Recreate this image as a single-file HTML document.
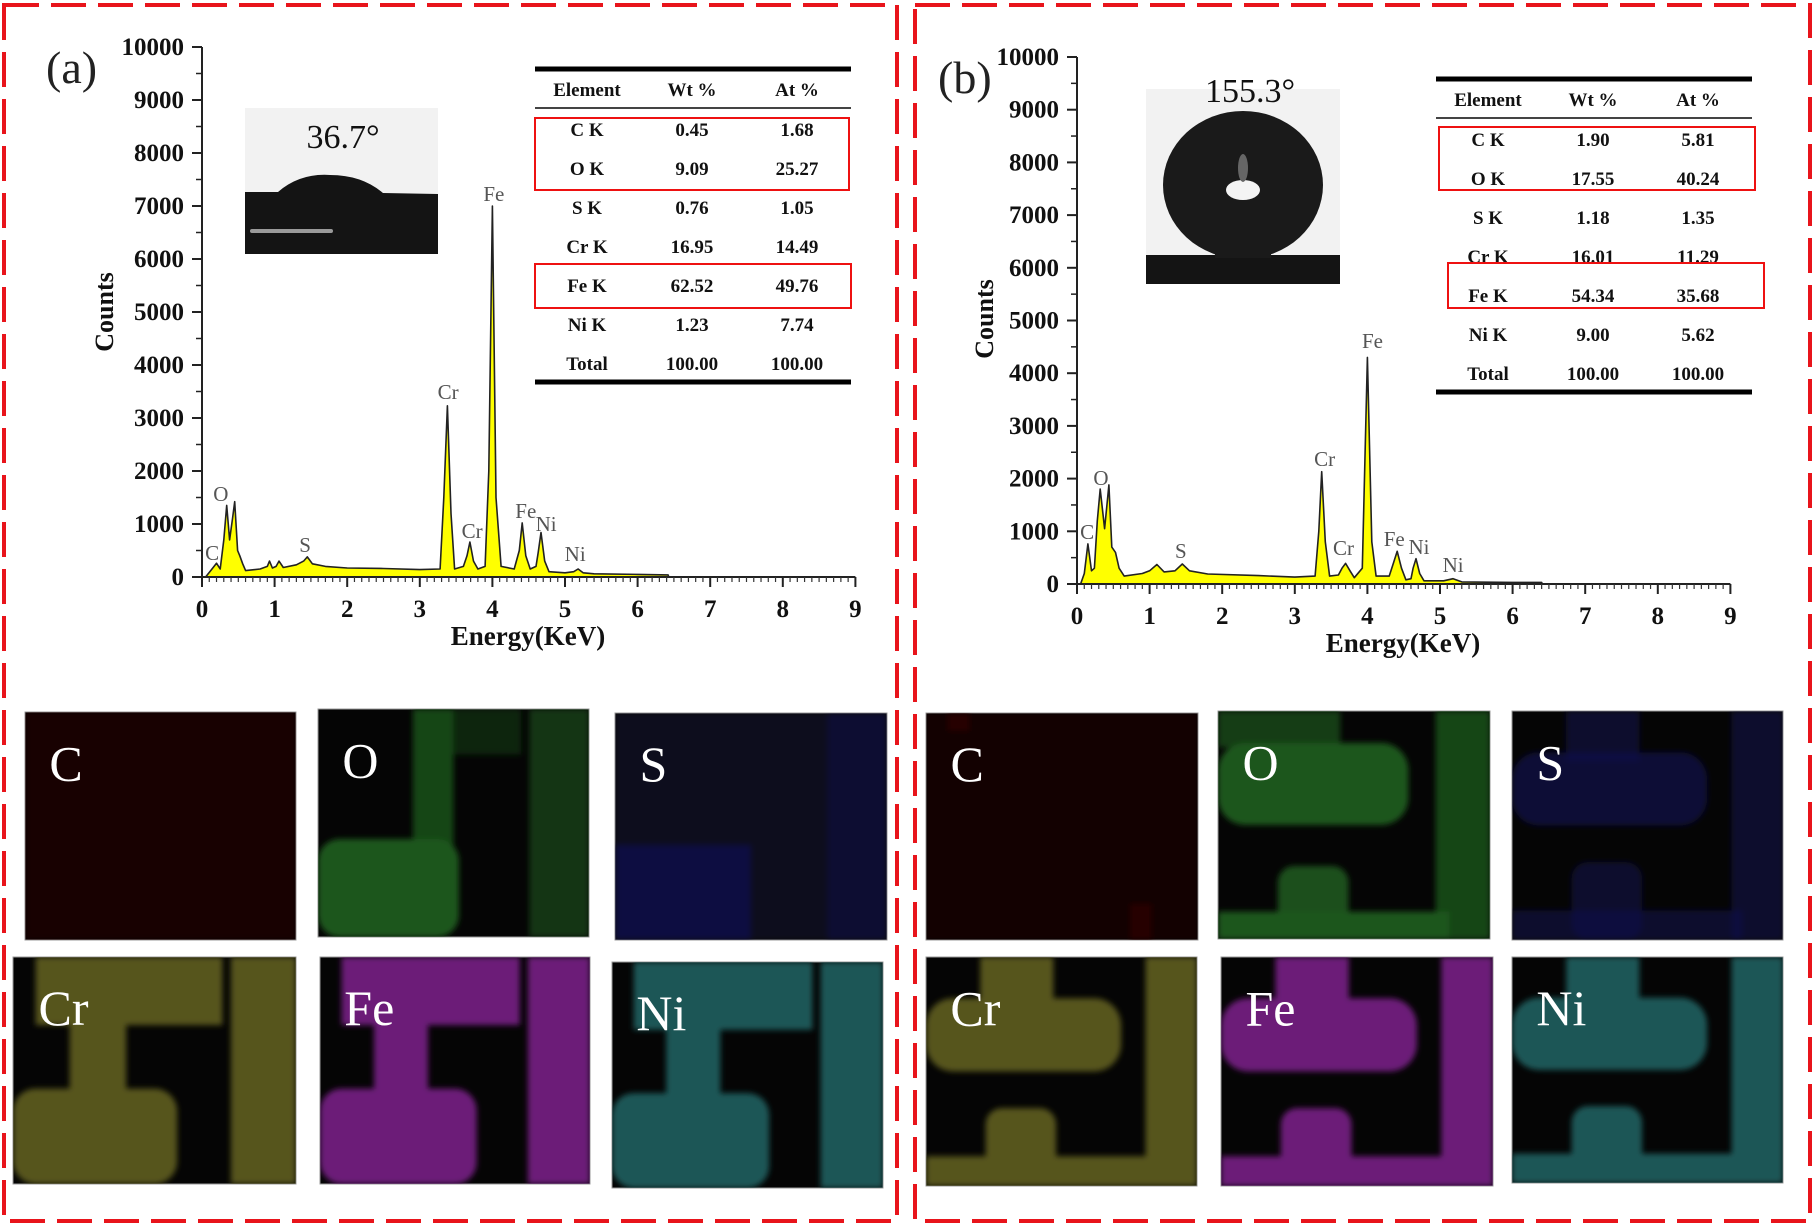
<!DOCTYPE html>
<html><head><meta charset="utf-8"><style>
html,body{margin:0;padding:0;background:#fff;}
svg{display:block;}
text{font-family:"Liberation Serif",serif;}
</style></head><body>
<svg id="fig" width="1816" height="1226" viewBox="0 0 1816 1226" xmlns="http://www.w3.org/2000/svg">
<rect x="0" y="0" width="1816" height="1226" fill="#fff"/>
<rect x="4" y="5" width="893" height="1216" fill="none" stroke="#e8141b" stroke-width="4" stroke-dasharray="35,12"/>
<rect x="915" y="5" width="895" height="1216" fill="none" stroke="#e8141b" stroke-width="4" stroke-dasharray="35,12"/>
<g id="layer"></g>
</svg>
<script>
// ---- chart data ----
const aEnergy = [0.05,0.12,0.2,0.25,0.3,0.34,0.38,0.42,0.45,0.49,0.52,0.56,0.6,0.8,0.9,0.93,0.97,1.02,1.06,1.12,1.3,1.4,1.45,1.52,1.7,2.0,2.5,3.0,3.28,3.33,3.38,3.43,3.48,3.6,3.65,3.69,3.74,3.8,3.9,3.95,4.0,4.05,4.12,4.3,4.37,4.41,4.46,4.52,4.6,4.63,4.67,4.72,4.78,5.0,5.12,5.18,5.25,5.4,6.0,6.42,6.43];
const aCounts = [0,120,260,150,700,1350,700,1100,1420,500,400,250,120,150,200,300,170,200,300,180,230,300,380,250,200,170,160,140,150,1500,3230,1200,150,200,400,660,300,150,200,2000,7000,1500,200,150,500,1020,400,150,200,450,840,300,100,80,100,150,80,60,50,40,0];
const bEnergy = [0.05,0.1,0.15,0.2,0.24,0.28,0.32,0.38,0.44,0.48,0.53,0.58,0.65,0.9,1.0,1.1,1.2,1.35,1.45,1.55,1.8,2.5,3.0,3.28,3.33,3.37,3.42,3.48,3.6,3.65,3.7,3.76,3.82,3.93,4.0,4.06,4.12,4.3,4.36,4.41,4.47,4.53,4.6,4.63,4.67,4.72,4.78,5.05,5.18,5.3,6.0,6.4,6.41];
const bCounts = [0,200,760,250,300,1200,1800,1050,1880,700,600,300,150,200,250,370,230,250,380,250,190,160,130,150,1000,2130,800,150,170,300,390,250,120,300,4300,800,150,150,400,620,300,80,100,300,480,200,60,60,100,40,30,30,0];
const yTicks = [0,1000,2000,3000,4000,5000,6000,7000,8000,9000,10000];
const xTicks = [0,1,2,3,4,5,6,7,8,9];
const peakNames = ["C","O","S","Cr","Cr","Fe","Fe","Ni","Ni"];
const aPeakE = [0.14,0.26,1.42,3.39,3.72,4.02,4.46,4.74,5.14];
const aPeakC = [470,1585,623,3510,887,7245,1264,1019,453];
const bPeakE = [0.14,0.33,1.43,3.41,3.67,4.07,4.37,4.71,5.18];
const bPeakC = [1006,2030,645,2391,702,4630,873,721,380];
const tblElements = ["C K","O K","S K","Cr K","Fe K","Ni K","Total"];
const aWt = ["0.45","9.09","0.76","16.95","62.52","1.23","100.00"];
const aAt = ["1.68","25.27","1.05","14.49","49.76","7.74","100.00"];
const bWt = ["1.90","17.55","1.18","16.01","54.34","9.00","100.00"];
const bAt = ["5.81","40.24","1.35","11.29","35.68","5.62","100.00"];

const NS = "http://www.w3.org/2000/svg";
const layer = document.getElementById('layer');
function mk(tag, attrs, parent){
  const e = document.createElementNS(NS, tag);
  for (const k in attrs) e.setAttribute(k, attrs[k]);
  (parent||layer).appendChild(e);
  return e;
}
function txt(str, attrs, parent){ const t = mk('text', attrs, parent); t.textContent = str; return t; }

function drawPanel(cfg){
  const g = mk('g', {});
  
  
  const x0 = cfg.x0, y0 = cfg.y0, kx = cfg.kx, ky = cfg.ky;
  const X = e => x0 + e * kx;
  const Y = c => y0 - c * ky;
  let d = 'M' + X(cfg.E[0]) + ',' + Y(0);
  for (let i = 0; i < cfg.E.length; i++) d += ' L' + X(cfg.E[i]).toFixed(1) + ',' + Y(cfg.C[i]).toFixed(1);
  d += ' L' + X(cfg.E[cfg.E.length-1]) + ',' + Y(0) + ' Z';
  const area = mk('path', {d: d, fill: '#ffff00', stroke: '#222', 'stroke-width': 1.6, 'stroke-linejoin': 'round'}, g);
  
  
  const yAxis = mk('line', {x1: x0, y1: y0 + 1, x2: x0, y2: Y(10000), stroke: '#222', 'stroke-width': 2}, g);
  
  
  const xAxis = mk('line', {x1: x0 - 1, y1: y0, x2: X(9), y2: y0, stroke: '#222', 'stroke-width': 2}, g);
  
  
  yTicks.forEach(v => {
    mk('line', {x1: x0 - 10, y1: Y(v), x2: x0, y2: Y(v), stroke: '#222', 'stroke-width': 2}, g);
    if (v < 10000) mk('line', {x1: x0 - 6, y1: Y(v + 500), x2: x0, y2: Y(v + 500), stroke: '#222', 'stroke-width': 1.5}, g);
    const t = txt(String(v), {x: x0 - 18, y: Y(v) + 8, 'text-anchor': 'end', 'font-size': 25, 'font-weight': 'bold', fill: '#111'}, g);
    
    
  });
  xTicks.forEach(v => {
    mk('line', {x1: X(v), y1: y0, x2: X(v), y2: y0 + 10, stroke: '#222', 'stroke-width': 2}, g);
    if (v < 9) for (let m = 1; m < 10; m++) mk('line', {x1: X(v + m/10), y1: y0, x2: X(v + m/10), y2: y0 + 5, stroke: '#333', 'stroke-width': 1.2}, g);
    const t = txt(String(v), {x: X(v), y: y0 + 40, 'text-anchor': 'middle', 'font-size': 25, 'font-weight': 'bold', fill: '#111'}, g);
    
    
  });
  const xt = txt('Energy(KeV)', {x: x0 + 326, y: y0 + 68, 'text-anchor': 'middle', 'font-size': 27, 'font-weight': 'bold', fill: '#111'}, g);
  
  
  const yt = txt('Counts', {x: 0, y: 0, 'text-anchor': 'middle', 'font-size': 26, 'font-weight': 'bold', fill: '#111', transform: 'translate(' + (cfg.countsX) + ',' + (y0 - 265) + ') rotate(-90)'}, g);
  
  
  for (let i = 0; i < peakNames.length; i++) {
    const p = txt(peakNames[i], {x: X(cfg.PE[i]), y: Y(cfg.PC[i]) + 8, 'text-anchor': 'middle', 'font-size': 21, fill: '#555'}, g);
    
    
  }
}

drawPanel({id: 'panel-a', x0: 202, y0: 577, kx: 72.6, ky: 0.053, E: aEnergy, C: aCounts, PE: aPeakE, PC: aPeakC, countsX: 113});
drawPanel({id: 'panel-b', x0: 1077, y0: 584, kx: 72.6, ky: 0.0527, E: bEnergy, C: bCounts, PE: bPeakE, PC: bPeakC, countsX: 993});

const la = txt('(a)', {x: 46, y: 83, 'font-size': 46, fill: '#222'});


const lb = txt('(b)', {x: 938, y: 93, 'font-size': 46, fill: '#222'});



function drawTable(id, x, y, W, A, boxes){
  const g = mk('g', {});
  
  
  const w = 316;
  mk('rect', {x: x, y: y - 2.5, width: w, height: 5, fill: '#000'}, g);
  const cols = [x + 52, x + 157, x + 262];
  ['Element','Wt %','At %'].forEach((h, i) => {
    const t = txt(h, {x: cols[i], y: y + 27, 'text-anchor': 'middle', 'font-size': 19, 'font-weight': 'bold', fill: '#111'}, g);
    
    
  });
  mk('rect', {x: x, y: y + 38, width: w, height: 2, fill: '#444'}, g);
  for (let r = 0; r < tblElements.length; r++) {
    const yy = y + 67 + r * 39;
    [tblElements[r], W[r], A[r]].forEach((s, i) => {
      const t = txt(s, {x: cols[i], y: yy, 'text-anchor': 'middle', 'font-size': 19, 'font-weight': 'bold', fill: '#111'}, g);
      
      
    });
  }
  mk('rect', {x: x, y: y + 310.5, width: w, height: 5, fill: '#000'}, g);
  boxes.forEach(b => {
    const r = mk('rect', {x: b[0], y: b[1], width: b[2], height: b[3], fill: 'none', stroke: '#ee1111', 'stroke-width': 2}, g);
    
    
  });
}
drawTable('panel-a', 535, 69, aWt, aAt, [[535,118,314,72],[535,264,316,44]]);
drawTable('panel-b', 1436, 79, bWt, bAt, [[1439,127,316,63],[1448,263,316,45]]);

(function(){
  const g = mk('g', {});
  
  
  mk('rect', {x: 245, y: 108, width: 193, height: 146, fill: '#f2f2f2'}, g);
  mk('path', {d: 'M245,192 L278,192 Q300,173 330,175 Q362,175 383,193 L438,194 L438,254 L245,254 Z', fill: '#141414'}, g);
  mk('rect', {x: 250, y: 229, width: 83, height: 4, rx: 2, fill: '#9a9a9a'}, g);
  const t = txt('36.7°', {x: 343, y: 148, 'text-anchor': 'middle', 'font-size': 34, fill: '#111'}, g);
  
  
  const g2 = mk('g', {});
  
  
  mk('rect', {x: 1146, y: 89, width: 194, height: 195, fill: '#f2f2f2'}, g2);
  mk('ellipse', {cx: 1243, cy: 185, rx: 80, ry: 74, fill: '#1a1a1a'}, g2);
  mk('rect', {x: 1146, y: 255, width: 194, height: 29, fill: '#141414'}, g2);
  mk('rect', {x: 1215, y: 240, width: 56, height: 18, fill: '#1a1a1a'}, g2);
  mk('ellipse', {cx: 1243, cy: 190, rx: 17, ry: 10, fill: '#f4f4f4'}, g2);
  mk('ellipse', {cx: 1243, cy: 168, rx: 5, ry: 14, fill: '#666'}, g2);
  const t2 = txt('155.3°', {x: 1250, y: 102, 'text-anchor': 'middle', 'font-size': 34, fill: '#111'}, g2);
  
  
})();

const defs = mk('defs', {});
const flt = mk('filter', {id: 'soft', x: '-5%', y: '-5%', width: '110%', height: '110%'}, defs);
mk('feGaussianBlur', {stdDeviation: 3}, flt);
function tile(id, label, x, y, w, h, color, rects, base){
  const g = mk('g', {});
  
  
  const cp = mk('clipPath', {id: 'cp-' + id}, defs);
  mk('rect', {x: x, y: y, width: w, height: h}, cp);
  mk('rect', {x: x, y: y, width: w, height: h, fill: base || '#050505', stroke: '#999', 'stroke-width': 1}, g);
  const inner = mk('g', {'clip-path': 'url(#cp-' + id + ')'}, g);
  const blur = mk('g', {filter: 'url(#soft)'}, inner);
  rects.forEach(r => mk('rect', {x: x + r[0]*w, y: y + r[1]*h, width: r[2]*w, height: r[3]*h, rx: (r[5]||0)*w, fill: color, opacity: r[4] == null ? 1 : r[4]}, blur));
  const t = txt(label, {x: x + 0.09*w, y: y + 0.3*h, 'font-size': 50, fill: '#fff'}, g);
  
  
}
const A_full = [[0.08,0,0.66,0.3],[0.2,0.28,0.2,0.32],[0,0.58,0.58,0.42,1,0.08],[0.77,0,0.23,1]];
const A_O = [[0.35,0,0.15,0.6,0.8],[0,0.57,0.52,0.43,1,0.08],[0.78,0,0.22,1,0.6],[0.5,0,0.25,0.2,0.4]];
const A_S = [[0,0,1,1,0.35],[0,0.58,0.5,0.42,0.8],[0.78,0,0.22,1,0.5]];
tile('panel-a-map-c','C',25,712,271,228,'#2a0505',[[0,0,1,1,0.45]],'#060101');
tile('panel-a-map-o','O',318,709,271,228,'#1c561c',A_O);
tile('panel-a-map-s','S',615,713,272,227,'#121248',A_S);
tile('panel-a-map-cr','Cr',13,957,283,227,'#56541a',A_full);
tile('panel-a-map-fe','Fe',320,957,270,227,'#6c1a78',A_full);
tile('panel-a-map-ni','Ni',612,962,271,226,'#1a5656',A_full);
const B_full = [[0.2,0,0.27,0.22],[0,0.18,0.72,0.32,1,0.1],[0.22,0.66,0.26,0.34,1,0.06],[0,0.87,0.85,0.13],[0.81,0,0.19,1]];
const B_S = [[0.2,0,0.27,0.22,0.6],[0,0.18,0.72,0.32,0.75,0.1],[0.22,0.66,0.26,0.34,0.6,0.06],[0,0.87,0.85,0.13,0.6],[0.81,0,0.19,1,0.6]];
const B_O = [[0,0,0.45,0.16,0.7],[0,0.14,0.7,0.36,1,0.1],[0.22,0.68,0.26,0.32,0.9,0.06],[0,0.88,0.85,0.12],[0.8,0,0.2,1,0.8]];
tile('panel-b-map-c','C',926,713,272,227,'#280505',[[0,0,1,1,0.4],[0.08,0,0.08,0.08,1],[0.75,0.84,0.08,0.16,1]],'#060101');
tile('panel-b-map-o','O',1218,711,272,228,'#1c561c',B_O);
tile('panel-b-map-s','S',1512,711,271,229,'#121248',B_S);
tile('panel-b-map-cr','Cr',926,957,271,229,'#56541a',B_full);
tile('panel-b-map-fe','Fe',1221,957,272,229,'#6c1a78',B_full);
tile('panel-b-map-ni','Ni',1512,957,271,226,'#1a5656',B_full);
</script>
</body></html>
